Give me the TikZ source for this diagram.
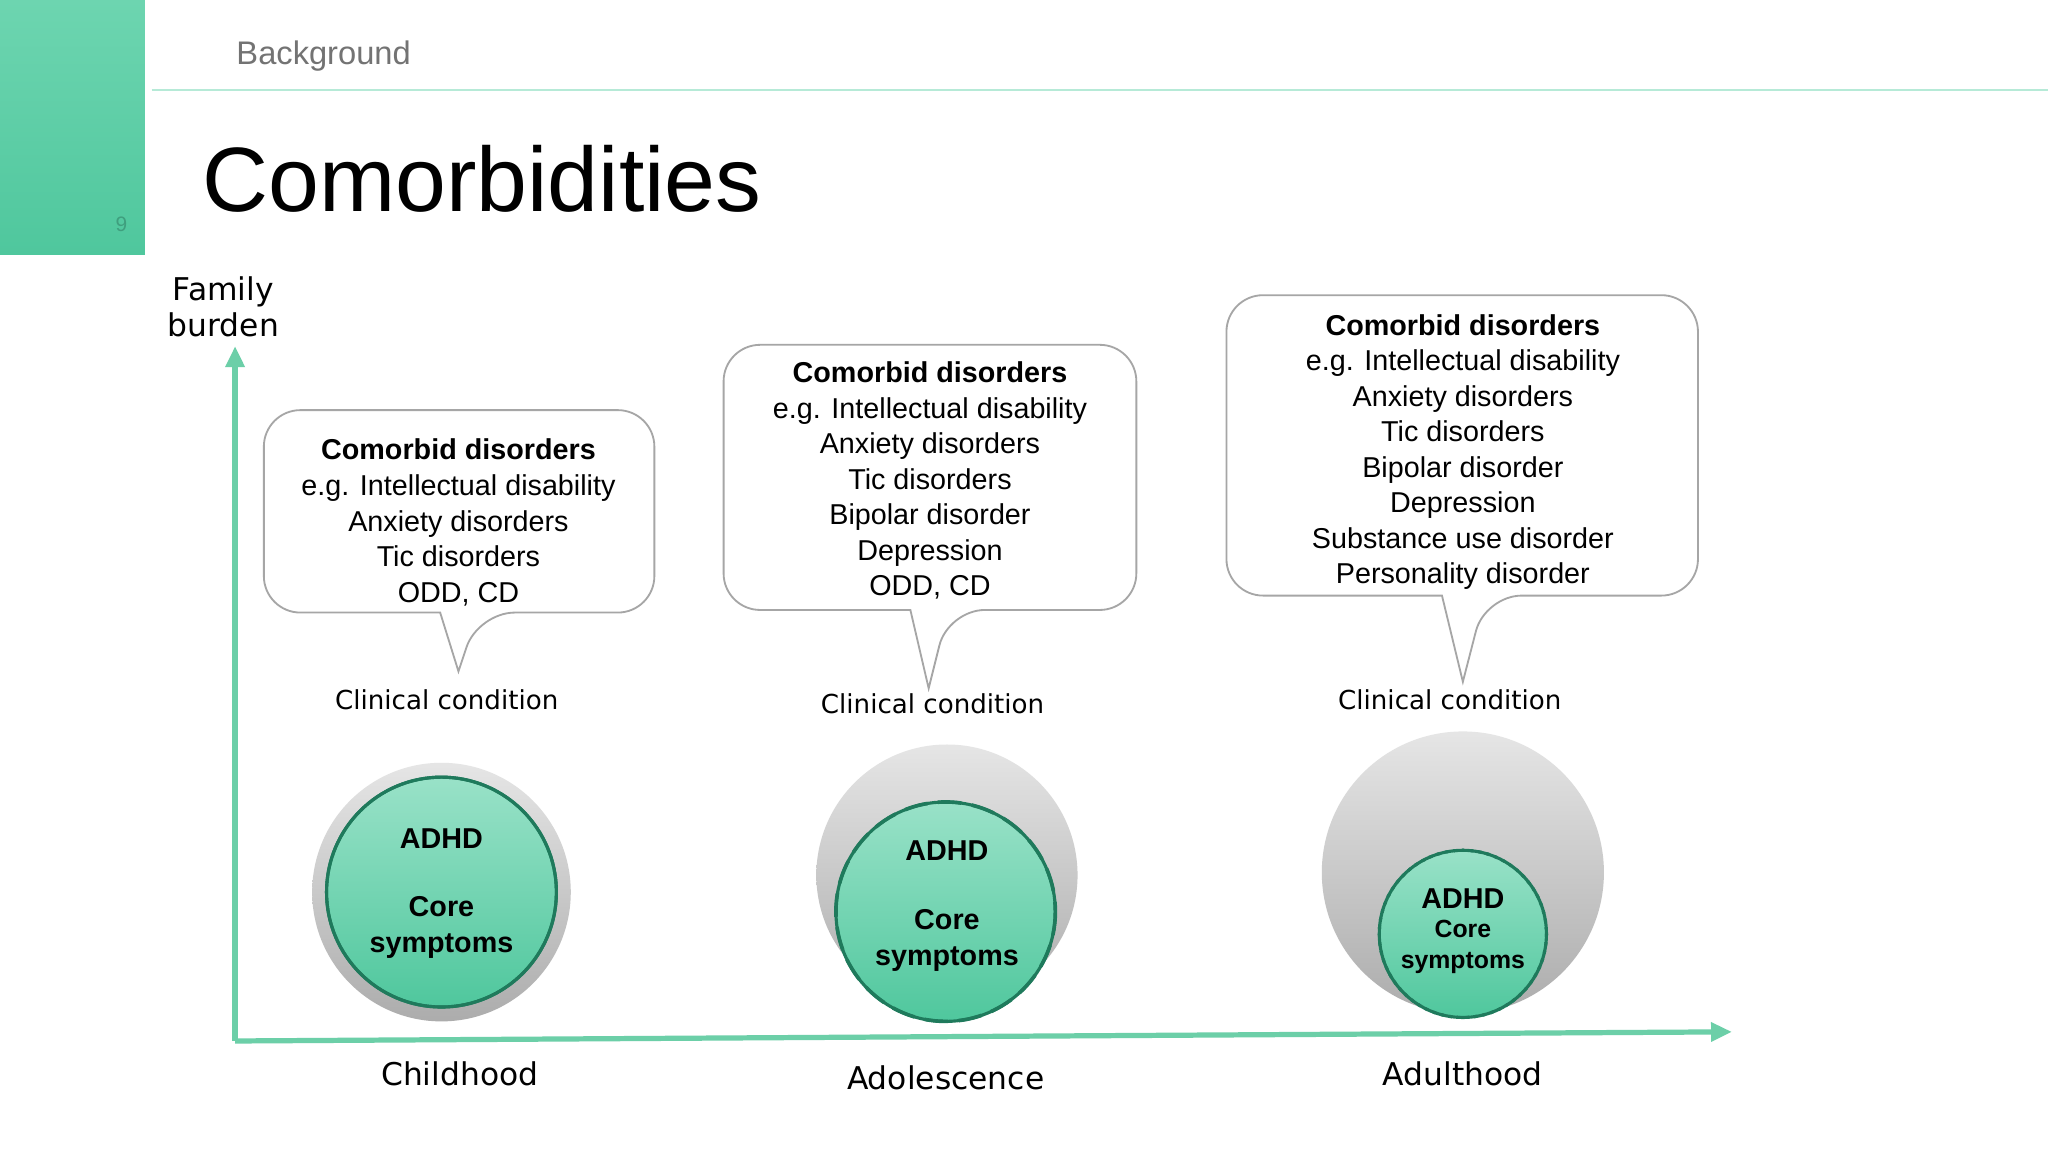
\documentclass[tikz,border=0pt]{standalone}
\usepackage{fontspec}
\setmainfont{Liberation Sans}
\newfontfamily\dv{DejaVu Sans}
\usetikzlibrary{arrows.meta}
\definecolor{teal1}{HTML}{6DD5B0}
\definecolor{teal2}{HTML}{4FC79D}
\definecolor{axisg}{HTML}{6CCFA8}
\definecolor{darkg}{HTML}{1F7A5C}
\tikzset{
  callout/.style={draw=gray!70, line width=0.7pt, fill=white, rounded corners=14pt},
  ctext/.style={align=center, font=\fontsize{11}{13.6}\selectfont},
  lbl/.style={font=\dv\fontsize{10}{12}\selectfont},
  axlbl/.style={font=\dv\fontsize{12}{14}\selectfont},
  outer/.style={top color=gray!20, bottom color=gray!65, draw=none},
  inner/.style={top color=teal1!70!white, bottom color=teal2, draw=darkg, line width=1.2pt},
  itext/.style={align=center, font=\bfseries\fontsize{11}{14}\selectfont}
}
\begin{document}
\begin{tikzpicture}[x=0.5pt,y=-0.5pt]
\useasboundingbox (0,0) rectangle (1568,882);
\fill[white] (0,0) rectangle (1568,882);
\shade[top color=teal1, bottom color=teal2] (0,0) rectangle (111,195);
\node[text=teal2!80!black, font=\fontsize{8}{9}\selectfont] (pg) at (93,172) {9};
\node[anchor=west, text=gray!90!black, font=\fontsize{12.5}{14}\selectfont] (bg) at (174,43) {Background};
\draw[teal1!50, line width=0.6pt] (116,69) -- (1568,69);
\node[anchor=west, font=\fontsize{35}{40}\selectfont] (title) at (148,137) {Comorbidities};
\node[align=center, font=\dv\fontsize{12}{14}\selectfont] (fb) at (171,235) {Family\\burden};
% axes
\coordinate (o) at (180,797);
\coordinate (ytop) at (180,265);
\coordinate (xend) at (1326,790);
\draw[axisg, line width=2pt, -{Triangle[length=8pt,width=7pt]}] (o) -- (ytop);
\draw[axisg, line width=2pt, -{Triangle[length=8pt,width=7pt]}] (o) -- (xend);
\node[axlbl] (c1) at (352,822) {Childhood};
\node[axlbl] (c2) at (724,825) {Adolescence};
\node[axlbl] (c3) at (1120,822) {Adulthood};
% callouts
\draw[callout] (337,469) -- (202,469) -- (202,314) -- (501,314) -- (501,469) -- (366,469) [sharp corners] -- (351,514) -- (337,469) -- cycle;
\draw[callout] (697,467) -- (554,467) -- (554,264) -- (870,264) -- (870,467) -- (726,467) [sharp corners] -- (711,527) -- (697,467) -- cycle;
\draw[callout] (1104,456) -- (939,456) -- (939,226) -- (1300,226) -- (1300,456) -- (1137,456) [sharp corners] -- (1120,522) -- (1104,456) -- cycle;
\node[ctext] (t1) at (351,400) {\textbf{Comorbid disorders}\\e.g. Intellectual disability\\Anxiety disorders\\Tic disorders\\ODD, CD};
\node[ctext] (t2) at (712,368) {\textbf{Comorbid disorders}\\e.g. Intellectual disability\\Anxiety disorders\\Tic disorders\\Bipolar disorder\\Depression\\ODD, CD};
\node[ctext] (t3) at (1120,346) {\textbf{Comorbid disorders}\\e.g. Intellectual disability\\Anxiety disorders\\Tic disorders\\Bipolar disorder\\Depression\\Substance use disorder\\Personality disorder};
\node[lbl] (cc1) at (342,536) {Clinical condition};
\node[lbl] (cc2) at (714,539) {Clinical condition};
\node[lbl] (cc3) at (1110,536) {Clinical condition};
% circles
\shade[outer] (338,683) circle[radius=99];
\shade[inner] (338,683) circle[radius=88];
\draw[darkg, line width=1.2pt] (338,683) circle[radius=88];
\node[itext] (a1) at (338,642) {ADHD};
\node[itext] (s1) at (338,710) {Core\\symptoms};
\shade[outer] (725,670) circle[radius=100];
\shade[inner] (724,698) circle[radius=84];
\draw[darkg, line width=1.4pt, dash pattern=on 9pt off 4pt] (724,698) circle[radius=84];
\node[itext] (a2) at (725,651) {ADHD};
\node[itext] (s2) at (725,720) {Core\\symptoms};
\shade[outer] (1120,668) circle[radius=108];
\shade[inner] (1120,715) circle[radius=64];
\draw[darkg, line width=1.2pt, dotted] (1120,715) circle[radius=64];
\node[itext] (a3) at (1120,688) {ADHD};
\node[align=center, font=\bfseries\fontsize{9.5}{12}\selectfont] (s3) at (1120,725) {Core\\symptoms};
\end{tikzpicture}
\end{document}
